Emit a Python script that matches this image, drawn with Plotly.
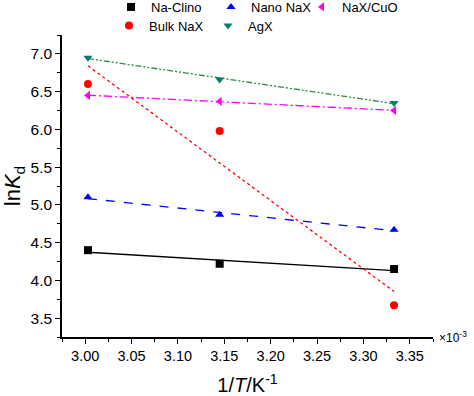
import numpy as np
import plotly.graph_objects as go

inv_T = [3.003, 3.145, 3.333]  # 1/T (x10^-3 K^-1)
na_clino = [4.40, 4.22, 4.15]
nano_nax = [5.10, 4.87, 4.67]
nax_cuo = [6.45, 6.37, 6.25]
bulk_nax = [6.60, 5.98, 3.67]
agx = [6.95, 6.66, 6.35]

series = [
    ("Na-Clino", na_clino, "#000000", "square", "solid", "legend"),
    ("Nano NaX", nano_nax, "#0000ff", "triangle-up", "dash", "legend2"),
    ("NaX/CuO", nax_cuo, "#ff00ff", "triangle-left", "8px,3px,2px,3px", "legend3"),
    ("Bulk NaX", bulk_nax, "#ff0000", "circle", "dot", "legend4"),
    ("AgX", agx, "#008070", "triangle-down", "6px,2px,2px,2px,2px,2px", "legend5"),
]
line_colors = {"AgX": "#2e8b3a"}

fig = go.Figure()
x = np.array(inv_T)
for name, y, col, sym, dash, lg in series:
    k, b = np.polyfit(x, np.array(y), 1)
    fig.add_trace(go.Scatter(x=x, y=k * x + b, mode="lines",
                             line=dict(color=line_colors.get(name, col), width=1.3, dash=dash),
                             showlegend=False, hoverinfo="skip"))
for name, y, col, sym, dash, lg in series:
    fig.add_trace(go.Scatter(x=x, y=y, mode="markers", name=name, legend=lg,
                             marker=dict(color=col, symbol=sym, size=8)))

L, R, T, B = 62, 41, 35, 59
W, H = 474, 396
pw, ph = W - L - R, H - T - B

def lx(px):
    return (px - L) / pw

def ly(py):
    return 1 + (T - py) / ph

legfont = dict(family="Arial, Liberation Sans, sans-serif", size=13, color="#000")
def leg(px, py):
    return dict(x=lx(px), y=ly(py), xanchor="left", yanchor="middle",
                bgcolor="rgba(0,0,0,0)", font=legfont, borderwidth=0,
                itemwidth=30, tracegroupgap=0)

fig.update_layout(
    width=W, height=H,
    margin=dict(l=L, r=R, t=T, b=B, autoexpand=False),
    paper_bgcolor="white", plot_bgcolor="white",
    font=dict(family="Arial, Liberation Sans, sans-serif", color="#000"),
    legend=leg(111, 7), legend2=leg(211, 7), legend3=leg(302, 7),
    legend4=leg(109, 25.5), legend5=leg(208, 25.5),
    xaxis=dict(range=[2.975, 3.375], tickvals=[3.00, 3.05, 3.10, 3.15, 3.20, 3.25, 3.30, 3.35],
               ticktext=["3.00", "3.05", "3.10", "3.15", "3.20", "3.25", "3.30", "3.35"],
               ticks="outside", ticklen=5, tickwidth=1, tickcolor="#000", automargin=False,
               minor=dict(tickvals=[2.975, 3.025, 3.075, 3.125, 3.175, 3.225, 3.275, 3.325, 3.375],
                          ticks="outside", ticklen=3, tickcolor="#000"),
               showline=True, linecolor="#000", linewidth=1.5, showgrid=False, zeroline=False,
               tickfont=dict(size=14.5),
               title=dict(text="1/<i>T</i>/K<sup>-1</sup>", font=dict(size=20), standoff=22)),
    yaxis=dict(range=[3.25, 7.25], tickvals=[3.5, 4.0, 4.5, 5.0, 5.5, 6.0, 6.5, 7.0],
               ticktext=["3.5", "4.0", "4.5", "5.0", "5.5", "6.0", "6.5", "7.0"],
               ticks="outside", ticklen=5, tickwidth=1, tickcolor="#000", automargin=False,
               minor=dict(tickvals=[3.25, 3.75, 4.25, 4.75, 5.25, 5.75, 6.25, 6.75, 7.25],
                          ticks="outside", ticklen=3, tickcolor="#000"),
               showline=True, linecolor="#000", linewidth=1.5, showgrid=False, zeroline=False,
               tickfont=dict(size=15.5),
               title=dict(text="ln<i>K</i><sub>d</sub>", font=dict(size=22), standoff=4)),
    annotations=[dict(text="×10<sup>-3</sup>", xref="paper", yref="paper",
                      x=1.0, y=0, xanchor="left", yanchor="middle", xshift=4,
                      showarrow=False, font=dict(size=12))],
)
fig.write_html("out.html", config={"displayModeBar": False},
               post_script="document.body.style.margin='0';")
